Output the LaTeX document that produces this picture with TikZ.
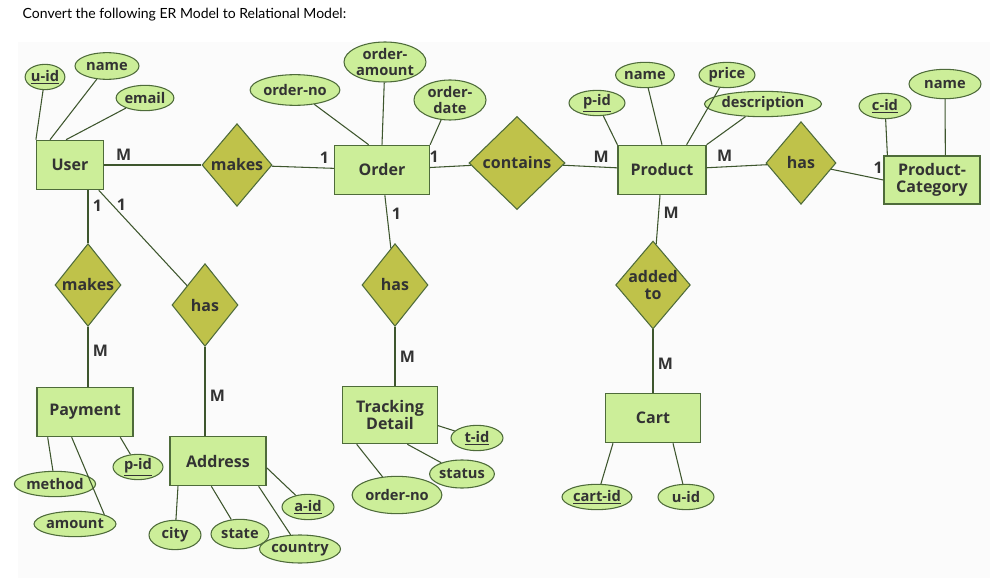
\documentclass[tikz,border=0pt]{standalone}
\usepackage{fontspec}
\setmainfont{Open Sans}
\newfontfamily\titlefont{Lato}
\usetikzlibrary{shapes.geometric}
\definecolor{ent}{HTML}{CCEE99}
\definecolor{rel}{HTML}{BFC24A}
\definecolor{edge}{HTML}{4E6B3A}
\definecolor{txt}{HTML}{333333}
\tikzset{
 ent/.style={draw=edge,fill=ent,line width=0.9pt,minimum width=#1*0.75pt,minimum height=37pt,inner sep=1pt,align=center,font=\bfseries\fontsize{12}{12.5}\selectfont,text=txt},
 att/.style={ellipse,draw=edge,fill=ent,line width=0.8pt,inner sep=0pt,minimum width=#1*0.75pt,minimum height=19pt,align=center,font=\bfseries\fontsize{11}{10.5}\selectfont,text=txt},
 rel/.style={diamond,draw=edge,fill=rel,line width=0.8pt,inner sep=0pt,minimum width=#1*0.75pt,minimum height=62pt,aspect=0.85,font=\bfseries\fontsize{12}{12}\selectfont,text=txt,align=center},
 ln/.style={draw=edge!80!black,line width=0.8pt},
 card/.style={font=\bfseries\fontsize{12}{12}\selectfont,text=txt}
}
\begin{document}
\begin{tikzpicture}[x=0.75pt,y=-0.75pt]
\useasboundingbox (0,0) rectangle (997,588);
\fill[white] (0,0) rectangle (997,588);
\fill[gray!3] (18,42) rectangle (990,578);
\node[anchor=west,font=\titlefont\fontsize{10.5}{12}\selectfont] (title) at (18,15) {Convert the following ER Model to Relational Model:};
% entities
\node[ent=67] (user) at (70,165) {User};
\node[ent=95] (order) at (382,170) {Order};
\node[ent=88] (product) at (662,170) {Product};
\node[ent=96,minimum height=36pt] (pcat) at (932,180) {Product-\\Category};
\node[ent=96] (payment) at (85,412) {Payment};
\node[ent=96] (address) at (218,461) {Address};
\node[ent=95,minimum height=43pt] (track) at (390,415) {Tracking\\Detail};
\node[ent=95] (cart) at (653,418) {Cart};
% relations
\node[rel=70] (makes1) at (237,165) {makes};
\node[rel=96] (contains) at (517,163) {contains};
\node[rel=70] (has1) at (801,163) {has};
\node[rel=66] (makes2) at (88,285) {makes};
\node[rel=66] (has2) at (205,305) {has};
\node[rel=66] (has3) at (395,285) {has};
\node[rel=66] (added) at (653,285) {added\\[1pt]to};
% attributes
\node[att=34] (uid) at (45,77) {\underline{u-id}};
\node[att=64,minimum height=20pt] (uname) at (107,66) {name};
\node[att=52] (email) at (145,98) {email};
\node[att=78,minimum height=23pt] (ono) at (295,90) {order-no};
\node[att=72,minimum height=30pt] (oamt) at (385,62) {order-\\[1pt]amount};
\node[att=72,minimum height=30pt] (odate) at (450,100) {order-\\[1pt]date};
\node[att=56] (pid) at (597,103) {\underline{p-id}};
\node[att=56] (pname) at (645,75) {name};
\node[att=56] (price) at (727,75) {price};
\node[att=96] (desc) at (763,104) {description};
\node[att=52] (cid) at (885,106) {\underline{c-id}};
\node[att=72,minimum height=22pt] (cname) at (945,84) {name};
\node[att=50] (ppid) at (138,467) {\underline{p-id}};
\node[att=72] (method) at (55,484) {method};
\node[att=74] (amount) at (75,524) {amount};
\node[att=52,minimum height=22pt] (city) at (175,535) {city};
\node[att=58,minimum height=22pt] (state) at (240,534) {state};
\node[att=58,minimum height=21pt] (country) at (300,549) {country};
\node[att=52] (aid) at (308,507) {\underline{a-id}};
\node[att=52] (tid) at (477,438) {\underline{t-id}};
\node[att=58,minimum height=21pt] (status) at (462,474) {status};
\node[att=78,minimum height=28pt] (tono) at (397,495) {order-no};
\node[att=70] (cartid) at (597,497) {\underline{cart-id}};
\node[att=56] (cuid) at (686,497) {u-id};
% attribute lines
\draw[ln] (uid) -- (user.north west);
\draw[ln] (uname) -- ([xshift=-15pt]user.north);
\draw[ln] (email) -- ([xshift=-3pt]user.north);
\draw[ln] (ono) -- ([xshift=-10pt]order.north);
\draw[ln] (oamt) -- (order.north);
\draw[ln] (odate) -- (order.north east);
\draw[ln] (pid) -- (product.north west);
\draw[ln] (pname) -- (product.north);
\draw[ln] (price) -- ([xshift=-15pt]product.north east);
\draw[ln] (desc) -- (product.north east);
\draw[ln] (cid) -- ([xshift=3pt]pcat.north west);
\draw[ln] (cname) -- ([xshift=10pt]pcat.north);
\draw[ln] ([xshift=-28pt]payment.south) -- (method);
\draw[ln] ([xshift=-10pt]payment.south) -- (amount.north east);
\draw[ln] ([xshift=-10pt]payment.south east) -- (ppid);
\draw[ln] ([xshift=-30pt]address.south) -- (city);
\draw[ln] ([xshift=-5pt]address.south) -- (state);
\draw[ln] ([xshift=-6pt]address.south east) -- (country);
\draw[ln] ([yshift=-5pt]address.east) -- (aid);
\draw[ln] ([yshift=-8pt]track.east) -- (tid);
\draw[ln] ([xshift=13pt]track.south) -- (status);
\draw[ln] ([xshift=-25pt]track.south) -- (tono);
\draw[ln] ([xshift=-30pt]cart.south) -- (cartid);
\draw[ln] ([xshift=15pt]cart.south) -- (cuid);
% relationship lines
\draw[ln] (user) -- (makes1) node[card,pos=0.2,above] {M};
\draw[ln] (makes1) -- (order) node[card,pos=0.85,above] {1};
\draw[ln] (order) -- (contains) node[card,pos=0.1,above] {1};
\draw[ln] (contains) -- (product) node[card,pos=0.7,above] {M};
\draw[ln] (product) -- (has1) node[card,pos=0.3,above] {M};
\draw[ln] (has1) -- (pcat.west) node[card,pos=0.9,above] {1};
\draw[ln] (makes2 |- user.south) -- (makes2) node[card,pos=0.3,right] {1};
\draw[ln] (makes2) -- (makes2 |- payment.north) node[card,pos=0.4,right] {M};
\draw[ln] ([xshift=-4pt]user.south east) -- (has2) node[card,pos=0.15,right] {1};
\draw[ln] (has2) -- (has2 |- address.north) node[card,pos=0.55,right] {M};
\draw[ln] (order) -- (has3) node[card,pos=0.35,right] {1};
\draw[ln] (has3) -- (has3 |- track.north) node[card,pos=0.5,right] {M};
\draw[ln] (product) -- (added) node[card,pos=0.35,right] {M};
\draw[ln] (added) -- (cart) node[card,pos=0.55,right] {M};
\end{tikzpicture}
\end{document}
